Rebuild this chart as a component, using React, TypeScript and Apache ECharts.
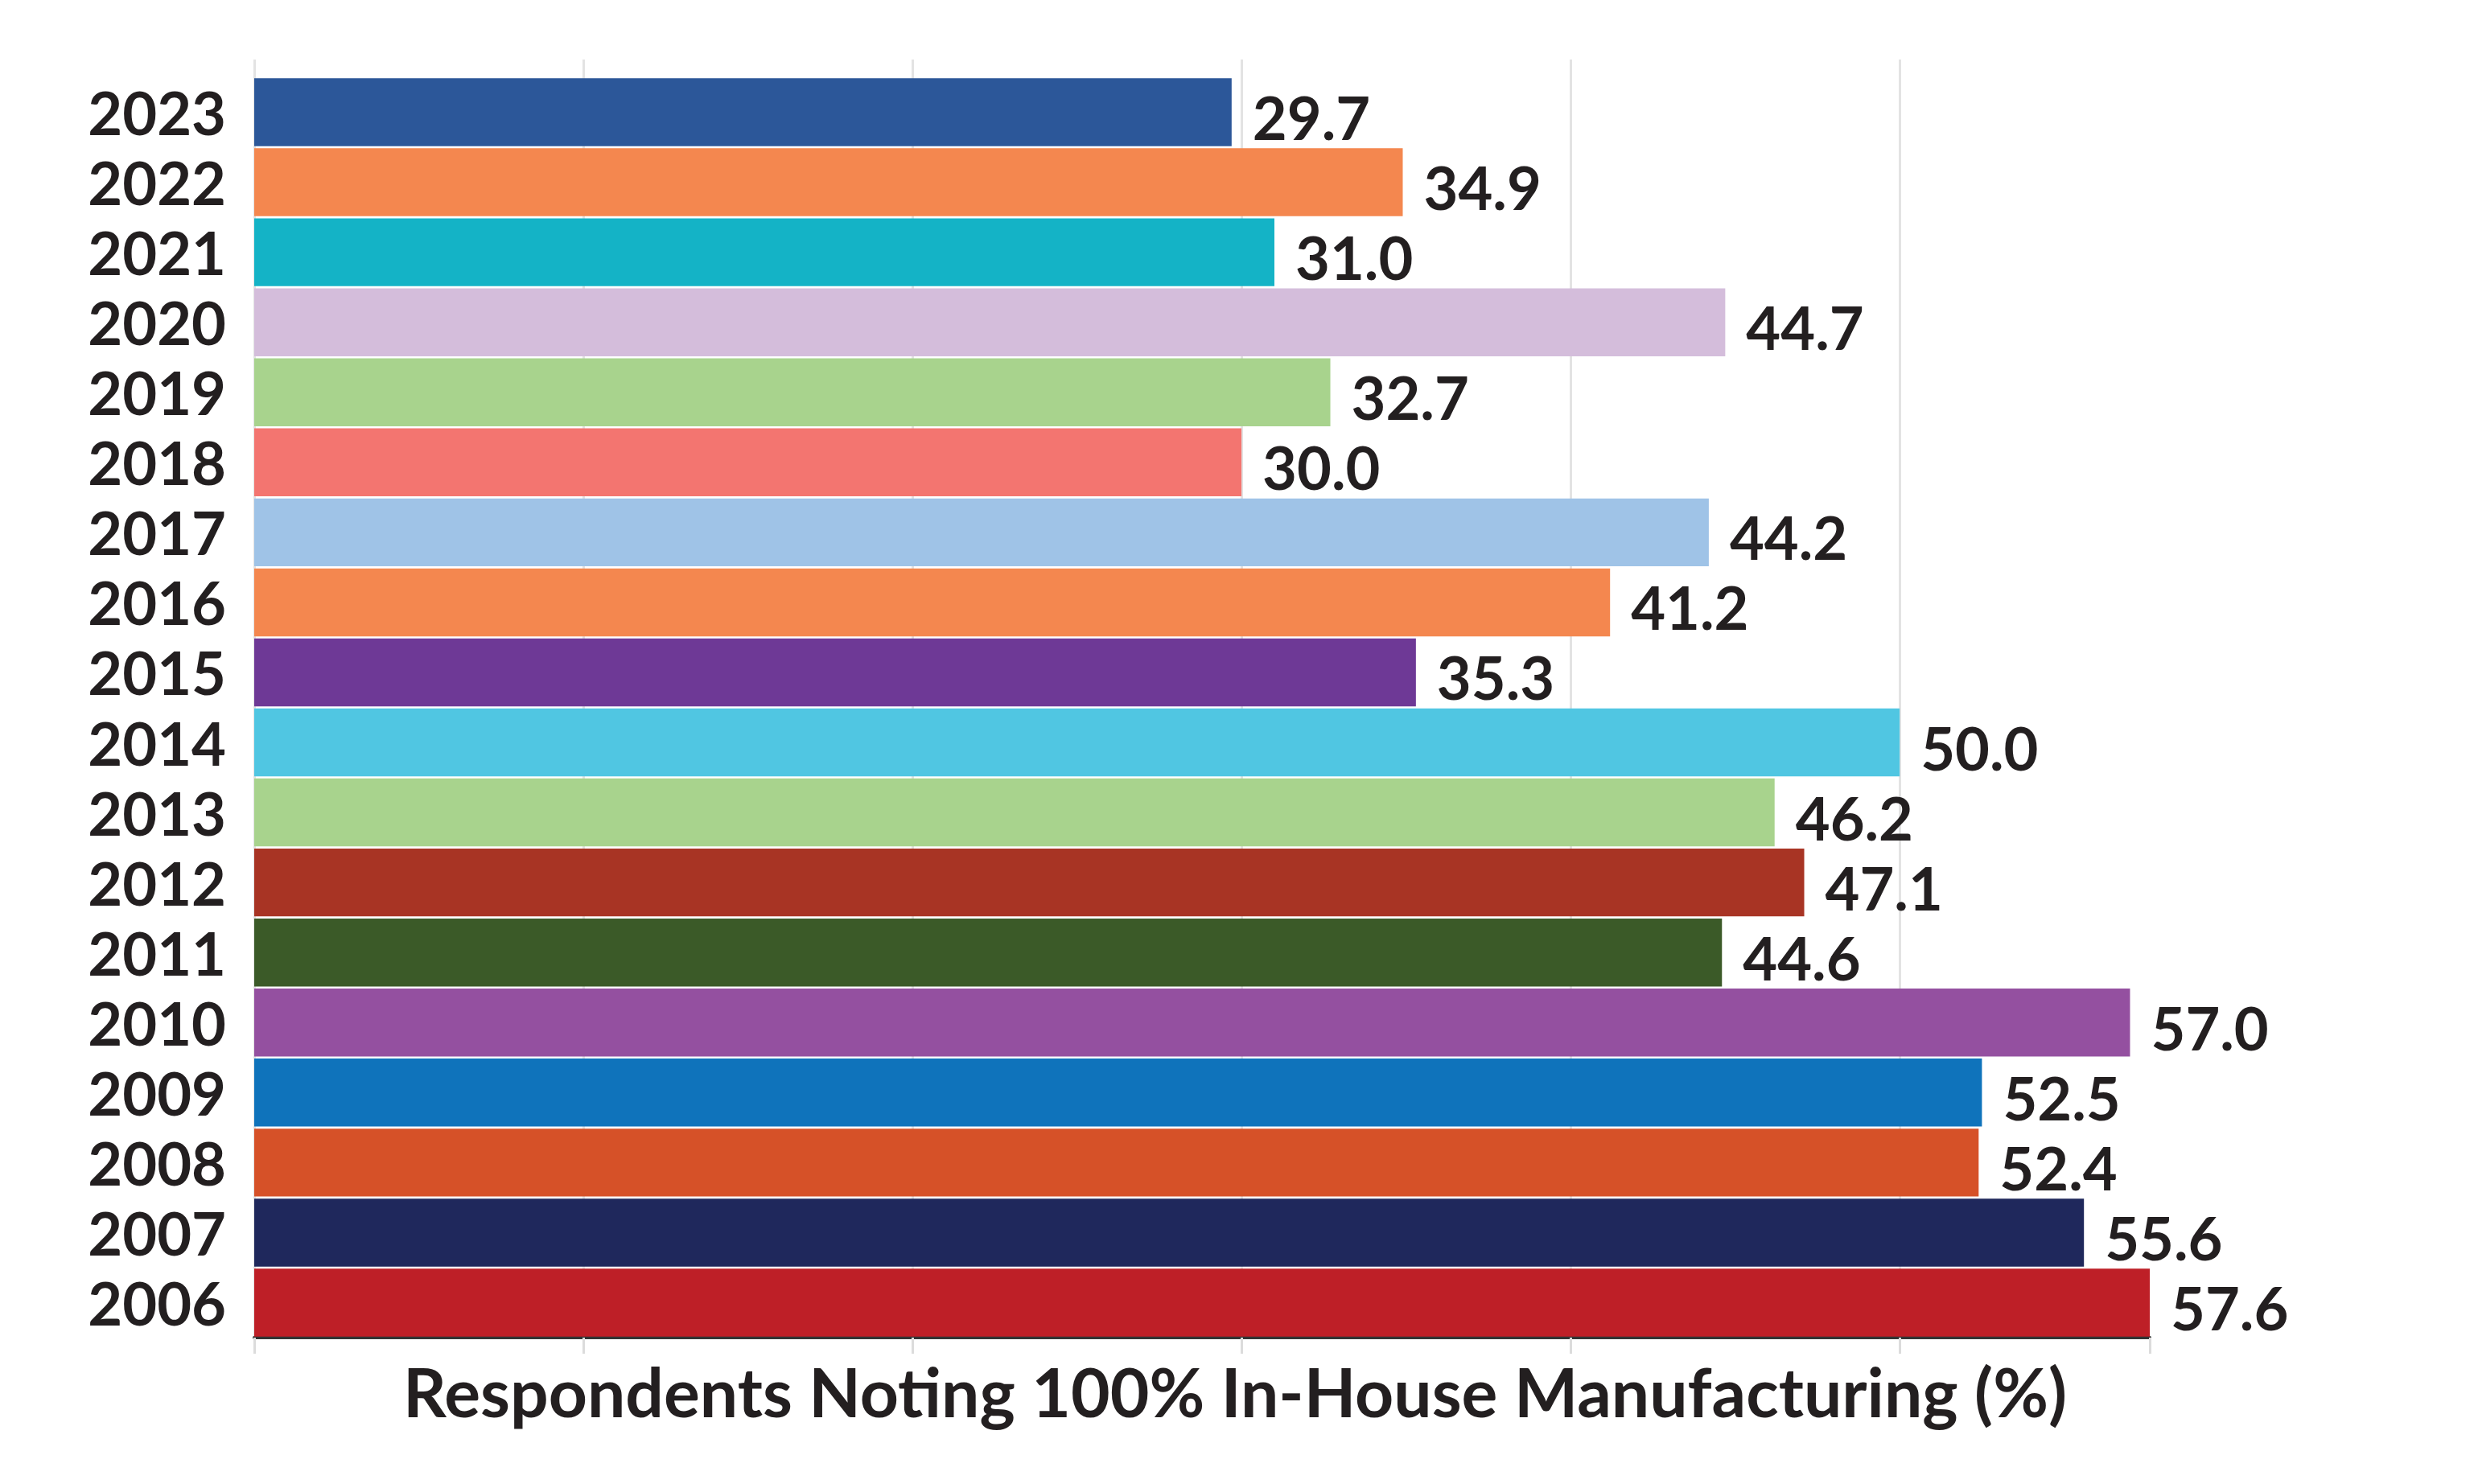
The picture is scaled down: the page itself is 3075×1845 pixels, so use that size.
import React, { useEffect, useRef } from "react";
import * as echarts from "echarts";

const years = [
  "2023", "2022", "2021", "2020", "2019", "2018", "2017", "2016", "2015",
  "2014", "2013", "2012", "2011", "2010", "2009", "2008", "2007", "2006",
];

const values = [
  29.7, 34.9, 31.0, 44.7, 32.7, 30.0, 44.2, 41.2, 35.3,
  50.0, 46.2, 47.1, 44.6, 57.0, 52.5, 52.4, 55.6, 57.6,
];

const barColors = [
  "#2c5799", "#f4874f", "#14b3c6", "#d4bddb", "#a8d38d", "#f37570",
  "#9fc3e7", "#f4874f", "#6e3996", "#50c6e2", "#a8d38d", "#a83424",
  "#3b5a28", "#9450a0", "#0f73bb", "#d65128", "#1f285c", "#be1f27",
];

const gridTicks = [0, 10, 20, 30, 40, 50];

const axisTitle = "Respondents Noting 100% In-House Manufacturing (%)";

const FONT = "Lato, 'Noto Sans', sans-serif";
const TEXT = "#231f20";

const App = () => {
  const chartRef = useRef(null);

  // eslint-disable-next-line consistent-return
  useEffect(() => {
    document.body.style.margin = "0";
    if (chartRef.current) {
      const chart = echarts.init(chartRef.current, null, { renderer: "svg" });

      const options = {
        animation: false,
        backgroundColor: "#ffffff",
        title: {
          text: axisTitle,
          left: 496,
          top: 1682,
          textStyle: {
            fontFamily: FONT,
            fontSize: 84,
            fontWeight: "bold",
            color: TEXT,
          },
        },
        grid: {
          left: 316,
          right: 403,
          top: 96,
          bottom: 182,
        },
        xAxis: [
          {
            type: "value",
            min: 0,
            max: 57.6,
            interval: 10,
            position: "bottom",
            axisLabel: { show: false },
            axisLine: { show: true, lineStyle: { color: "#333333", width: 4 } },
            axisTick: { show: true, length: 20, lineStyle: { color: "#dcdcdc", width: 3 } },
            splitLine: { show: true, showMaxLine: false, lineStyle: { color: "#e3e3e3", width: 3 } },
          },
          {
            type: "value",
            min: 0,
            max: 57.6,
            interval: 10,
            position: "top",
            axisLabel: { show: false },
            axisLine: { show: false },
            axisTick: {
              show: true,
              length: 22,
              customValues: gridTicks,
              lineStyle: { color: "#e3e3e3", width: 3 },
            },
            splitLine: { show: false },
          },
        ],
        yAxis: {
          type: "category",
          inverse: true,
          data: years,
          axisLine: { show: false },
          axisTick: { show: false },
          axisLabel: {
            interval: 0,
            margin: 35,
            fontFamily: FONT,
            fontSize: 74,
            fontWeight: "bold",
            color: TEXT,
          },
        },
        series: [
          {
            type: "bar",
            xAxisIndex: 0,
            barCategoryGap: "3%",
            data: values.map((v, i) => ({
              value: v,
              itemStyle: { color: barColors[i] },
            })),
            label: {
              show: true,
              position: "right",
              distance: 26,
              offset: [0, 6],
              formatter: (p: any) => p.value.toFixed(1),
              fontFamily: FONT,
              fontSize: 74,
              fontWeight: "bold",
              color: TEXT,
            },
          },
        ],
      };
      chart.setOption(options);
      return () => {
        chart.dispose();
      };
    }
  }, []);

  return <div ref={chartRef} style={{ width: "3075px", height: "1845px" }} />;
};

export default App;
